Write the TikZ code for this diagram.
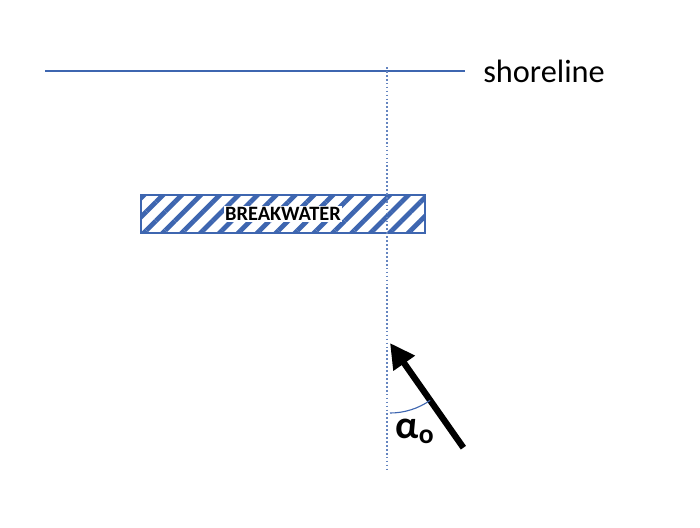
\documentclass[tikz,border=0pt]{standalone}
\usepackage{fontspec}
\setmainfont{Carlito}
\usepackage{tikz}
\usetikzlibrary{arrows.meta,patterns.meta,positioning}

\definecolor{seablue}{RGB}{62,102,176}

\begin{document}
\begin{tikzpicture}[x=0.025cm,y=-0.025cm,
		shore/.style={seablue,line width=1.2pt},
		normal/.style={seablue!80,dash pattern=on 1.2pt off 1.6pt,line width=1.1pt},
		wall/.style={rectangle,draw=seablue,line width=1pt,minimum width=7.1cm,minimum height=0.95cm,
			pattern={Lines[angle=45,distance=9.5pt,line width=3.4pt]},pattern color=seablue},
		wave/.style={-{Triangle[length=0.62cm,width=0.62cm]},line width=4.5pt,shorten <=2pt}]
	\useasboundingbox (0,0) rectangle (700,528);

	\coordinate (shoreL) at (45,71);
	\coordinate (shoreR) at (465,71);
	\node[right=0.45cm of shoreR,inner sep=0pt,font=\fontsize{23}{26}\selectfont] (shoreline) {shoreline};

	\coordinate (top) at (387,67);
	\coordinate (bot) at (387,472);

	\node[wall] (BW) at (283,214) {};
	\node[fill=white,inner sep=1pt,font=\bfseries\fontsize{14.5}{16}\selectfont] (BWtext) at (BW) {BREAKWATER};

	\coordinate (wavefrom) at (465,450);
	\coordinate (waveto) at (390,343);

	\path[shore] (shoreL) edge (shoreR);
	\path[normal] (top) edge (bot);
	\draw[wave] (wavefrom) -- (waveto);
	\draw[seablue,line width=0.8pt] ([shift={(90:70)}]waveto) arc (90:55:70);
	\node[font=\bfseries\fontsize{28}{30}\selectfont] (alpha) at (415,431) {α\textsubscript{o}};
\end{tikzpicture}
\end{document}
